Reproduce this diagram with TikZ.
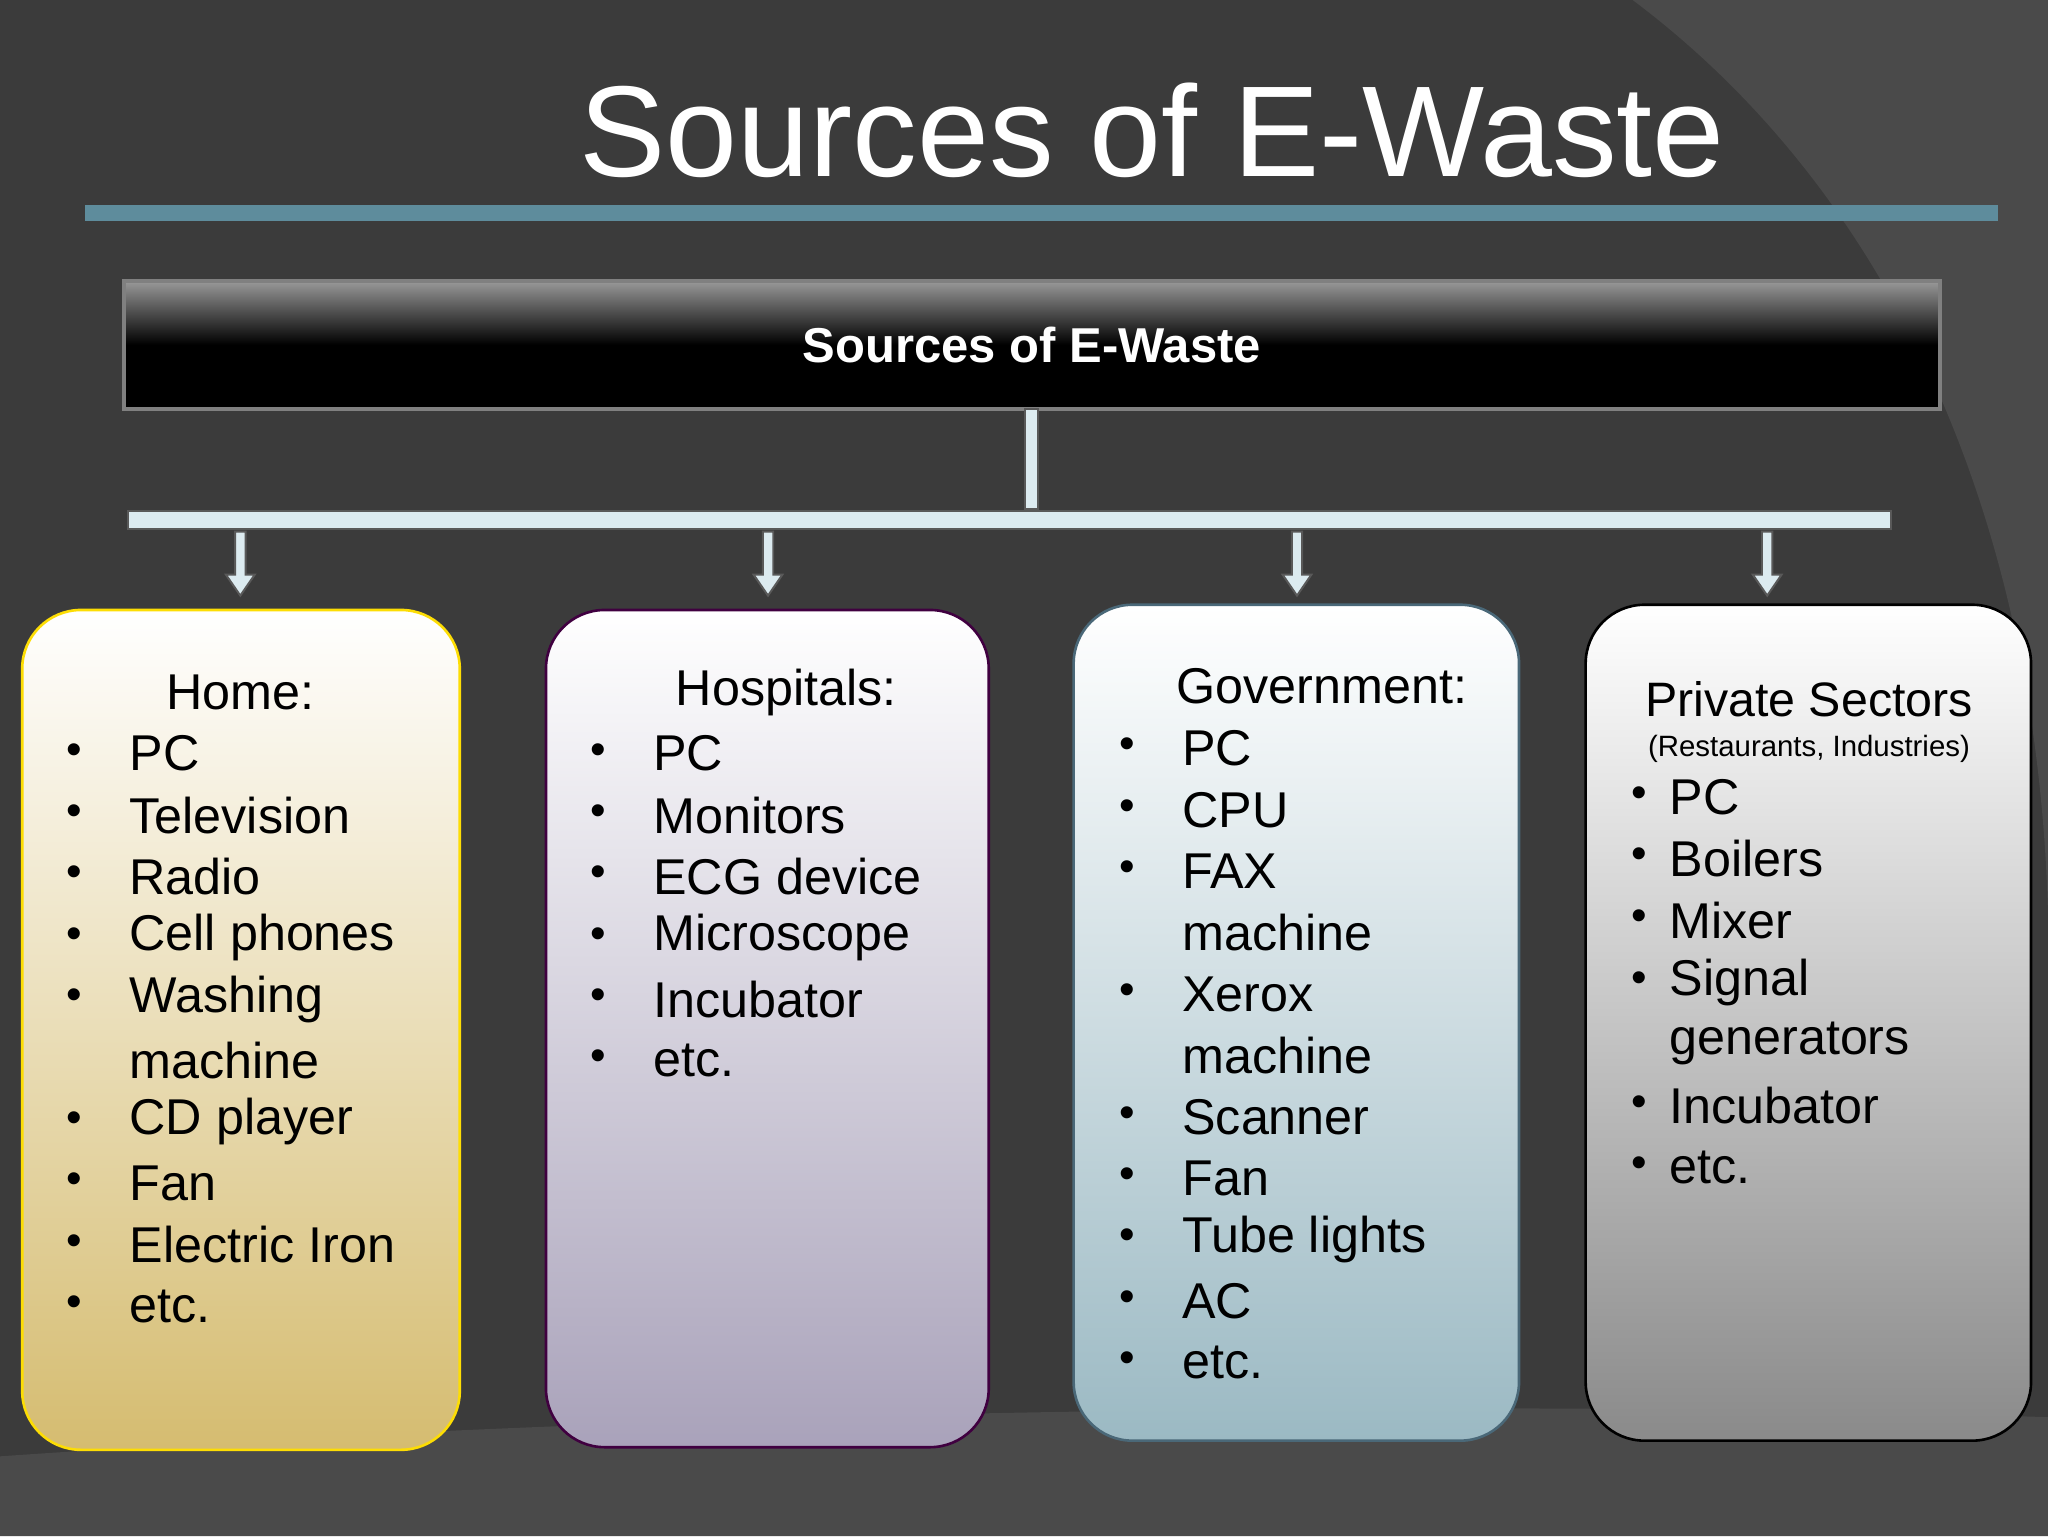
\documentclass[tikz,border=0pt]{standalone}
\usepackage{fontspec}
\setmainfont{Liberation Sans}
\usetikzlibrary{arrows.meta}
\definecolor{bg}{HTML}{3B3B3B}
\definecolor{bgl}{HTML}{4A4A4A}
\definecolor{rule}{HTML}{5E8C9C}
\definecolor{conn}{HTML}{DCEBF0}
\definecolor{homeb}{HTML}{D5BC70}
\definecolor{hospb}{HTML}{A9A2BA}
\definecolor{govb}{HTML}{9BB9C3}
\definecolor{privb}{HTML}{8A8A8A}
\tikzset{
 card/.style={rounded corners=45pt,line width=2pt},
 item/.style={anchor=west,inner sep=0pt,font=\fontsize{38.5}{38.5}\selectfont},
 bul/.style={inner sep=0pt,font=\fontsize{34}{34}\selectfont},
 head/.style={inner sep=0pt,font=\fontsize{38.5}{38.5}\selectfont},
 arr/.style={draw=gray!70!black,fill=conn,line width=1.5pt}
}
\begin{document}
\begin{tikzpicture}[x=1pt,y=-1pt]
\useasboundingbox (0,0) rectangle (1568,1176);
\fill[bg] (0,0) rectangle (1568,1176);
\fill[bgl] (1250,0) .. controls (1450,150) and (1560,400) .. (1568,700) -- (1568,0) -- cycle;
\fill[bgl] (0,1115) .. controls (500,1080) and (1100,1070) .. (1568,1085) -- (1568,1176) -- (0,1176) -- cycle;
\node[text=white,inner sep=0pt,font=\fontsize{99}{99}\selectfont] (title) at (882,100) {Sources of E-Waste};
\fill[rule] (65,157) rectangle (1530,169);
\node[draw=gray,line width=3pt,top color=gray!80,bottom color=black,middle color=black,minimum width=1390pt,minimum height=98pt,inner sep=0pt] (top) at (790,264) {};
\node[text=white,font=\bfseries\fontsize{37.5}{37.5}\selectfont] at (top) {Sources of E-Waste};
\draw[arr] (785,313) rectangle (795,390);
\draw[arr] (98,391) rectangle (1448,405);
\foreach \x/\n in {184/a,588/b,993/c,1353/d}{
 \coordinate (s\n) at (\x,407);
 \draw[arr] (\x-4,407) -- (\x+4,407) -- (\x+4,440) -- (\x+11,440) -- (\x,456) -- (\x-11,440) -- (\x-4,440) -- cycle;
}
\shade[card,draw=yellow!80!orange,top color=white,bottom color=homeb] (17,467) rectangle (352,1110);
\shade[card,draw=violet!50!black,top color=white,bottom color=hospb] (418,467) rectangle (757,1108);
\shade[card,draw=cyan!40!black,top color=white,bottom color=govb] (822,463) rectangle (1163,1103);
\shade[card,draw=black,top color=white,bottom color=privb] (1214,463) rectangle (1555,1103);
\node[head] (h1) at (184,530) {Home:};
\foreach \t [count=\i from 0] in {PC,Television,Radio,Cell phones,Washing,machine,CD player,Fan,Electric Iron,etc.}{
 \node[item] at (99,577+47*\i) {\t};}
\foreach \i in {0,1,2,3,4,6,7,8,9}{\node[bul] at (57,577+47*\i) {•};}
\node[head] (h2) at (602,530) {Hospitals:};
\foreach \t [count=\i from 0] in {PC,Monitors,ECG device,Microscope,Incubator,etc.}{
 \node[item] at (500,577+47*\i) {\t}; \node[bul] at (458,577+47*\i) {•};}
\node[head] (h3) at (1012,525) {Government:};
\foreach \t [count=\i from 0] in {PC,CPU,FAX,machine,Xerox,machine,Scanner,Fan,Tube lights,AC,etc.}{
 \node[item] at (905,573+47*\i) {\t};}
\foreach \i in {0,1,2,4,6,7,8,9,10}{\node[bul] at (863,573+47*\i) {•};}
\node[head,font=\fontsize{37}{37}\selectfont] (h4) at (1385,535) {Private Sectors};
\node[inner sep=0pt,font=\fontsize{22.5}{22.5}\selectfont] at (1385,573) {(Restaurants, Industries)};
\foreach \t [count=\i from 0] in {PC,Boilers,Mixer,Signal,generators,Incubator,etc.}{
 \node[item] at (1278,610+47.3*\i) {\t};}
\foreach \i in {0,1,2,3,5,6}{\node[bul] at (1255,610+47.3*\i) {•};}
\end{tikzpicture}
\end{document}
